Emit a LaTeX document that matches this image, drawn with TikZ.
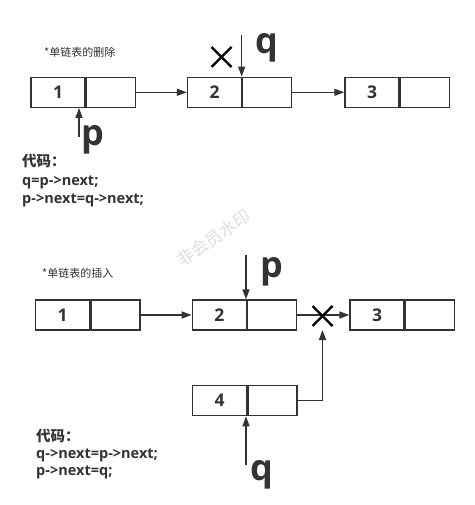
\documentclass[tikz,border=0pt]{standalone}
\usepackage{fontspec}
\setmainfont{Open Sans}
\newfontfamily\cjk{Noto Sans CJK SC}
\usetikzlibrary{arrows.meta,calc}
\definecolor{ink}{HTML}{333333}
\tikzset{
  cell/.style={draw=ink, line width=1.3pt, minimum height=30pt, inner sep=0pt,
    font=\fontsize{17.5}{17.5}\selectfont\bfseries, text=ink},
  datacell/.style={cell, minimum width=54pt},
  ptrcell/.style={cell, minimum width=49pt, anchor=west},
  conn/.style={draw=ink, line width=1.3pt, -{Triangle[length=10pt,width=7pt]}},
  plain/.style={draw=ink, line width=1.3pt},
  bigletter/.style={font=\fontsize{36}{36}\selectfont\bfseries, text=ink, anchor=base, inner sep=0pt},
  title/.style={font=\cjk\fontsize{11}{12}\selectfont, text=ink, anchor=base west, inner sep=0pt},
  codeline/.style={font=\fontsize{14.5}{14.5}\selectfont\bfseries, text=ink, anchor=base west, inner sep=0pt},
  cross/.style={draw=black, line width=2.4pt},
  wm/.style={font=\cjk\fontsize{17}{17}\selectfont, text=black!13, rotate=35}
}
\begin{document}
\begin{tikzpicture}[x=1pt,y=-1pt]
\useasboundingbox (0,0) rectangle (474,505);
\fill[white] (0,0) rectangle (474,505);
% watermark
\node[wm] (wmark) at (214,238) {非会员水印};
% ---------------- deletion ----------------
\node[title] (t1) at (44,57) {*单链表的删除};
\node[datacell] (a1) at (58,92.3) {1};
\node[ptrcell] (a1n) at (a1.east) {};
\node[datacell] (a2) at (214.5,92.3) {2};
\node[ptrcell] (a2n) at (a2.east) {};
\node[datacell] (a3) at (372,92.3) {3};
\node[ptrcell] (a3n) at (a3.east) {};
\draw[conn] (a1n.east) -- (a2.west);
\draw[conn] (a2n.east) -- (a3.west);
\coordinate (qtop1) at (241.7,35);
\draw[conn] (qtop1) -- (qtop1 |- a2.north);
\node[bigletter] (q1) at (267,54) {q};
\coordinate (pbot1) at (79,137);
\draw[conn] (pbot1) -- (pbot1 |- a1.south);
\node[bigletter] (p1) at (93,146) {p};
\coordinate (x1) at (221.5,57);
\draw[cross] ($(x1)+(-10,-10)$) -- ($(x1)+(10,10)$);
\draw[cross] ($(x1)+(-10,10)$) -- ($(x1)+(10,-10)$);
\node[codeline] (c1) at (22,166) {\cjk 代码：};
\node[codeline] (c2) at (22,185) {q=p->next;};
\node[codeline] (c3) at (22,203) {p->next=q->next;};
% ---------------- insertion ----------------
\node[title] (t2) at (42,277) {*单链表的插入};
\node[datacell] (b1) at (62.7,315) {1};
\node[ptrcell] (b1n) at (b1.east) {};
\node[datacell] (b2) at (219.3,315) {2};
\node[ptrcell] (b2n) at (b2.east) {};
\node[datacell] (b3) at (377,315) {3};
\node[ptrcell] (b3n) at (b3.east) {};
\node[datacell] (b4) at (219.7,400.7) {4};
\node[ptrcell] (b4n) at (b4.east) {};
\draw[conn] (b1n.east) -- (b2.west);
\draw[conn] (b2n.east) -- (b3.west);
\coordinate (ptop2) at (246,255);
\draw[conn] (ptop2) -- (ptop2 |- b2.north);
\node[bigletter] (p2) at (272,277) {p};
\coordinate (x2) at (322.5,316);
\draw[cross] ($(x2)+(-10,-10)$) -- ($(x2)+(10,10)$);
\draw[cross] ($(x2)+(-10,10)$) -- ($(x2)+(10,-10)$);
\coordinate (elbow) at (322.5,400.7);
\coordinate (xtip) at (322.5,330);
\draw[plain] (b4n.east) -- (elbow);
\draw[conn] (elbow) -- (xtip);
\coordinate (qbot2) at (246,465);
\draw[conn] (qbot2) -- (qbot2 |- b4.south);
\node[bigletter] (q2) at (262,480) {q};
\node[codeline] (d1) at (36,441) {\cjk 代码：};
\node[codeline] (d2) at (36,458) {q->next=p->next;};
\node[codeline] (d3) at (36,475) {p->next=q;};
\end{tikzpicture}
\end{document}
